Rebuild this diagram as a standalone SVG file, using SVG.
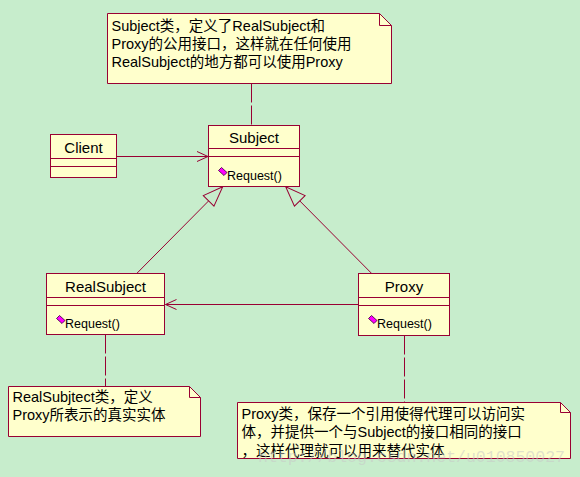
<svg xmlns="http://www.w3.org/2000/svg" width="580" height="477" viewBox="0 0 580 477">
<style>
  .box { fill: #FFFFCC; stroke: #990033; stroke-width: 1; }
  .ln { stroke: #990033; stroke-width: 1; fill: none; }
  .dash { stroke: #990033; stroke-width: 1; fill: none; stroke-dasharray: 19 3; }
  .title { font-family: "Liberation Sans", Arial, sans-serif; font-size: 15px; fill: #000; text-anchor: middle; }
  .op { font-family: "Liberation Sans", Arial, sans-serif; font-size: 12.5px; fill: #000; }
  .note { font-family: "Liberation Sans", Arial, "Noto Sans CJK SC", sans-serif; font-size: 14.5px; fill: #000; }
  .icon { fill: #FF00FF; stroke: #330033; stroke-width: 0.8; }
  .wm { font-family: "Liberation Mono", "Courier New", monospace; font-size: 16.5px; fill: #c8c8c8; fill-opacity: 0.55; }
</style>
<defs>
  <marker id="gen" markerUnits="userSpaceOnUse" viewBox="-21 -9 22 18" markerWidth="22" markerHeight="18" refX="0" refY="0" orient="auto">
    <path d="M0,0 L-20,-7.5 L-20,7.5 Z" fill="#C7EDCC" stroke="#990033" stroke-width="1"/>
  </marker>
  <marker id="open" markerUnits="userSpaceOnUse" viewBox="-13 -7 14 14" markerWidth="14" markerHeight="14" refX="0" refY="0" orient="auto">
    <path d="M-11,-5 L0,0 L-11,5" fill="none" stroke="#990033" stroke-width="1"/>
  </marker>
  <polygon id="opicon" points="0,3 3,0 8.5,5 5.5,8"/>
</defs>
<rect x="0" y="0" width="580" height="477" fill="#C7EDCC"/>

<g id="connectors">
  <path class="dash" d="M251.5,83.5 L251.5,125.5"/>
  <path class="dash" d="M105.5,334.5 L105.5,386.5"/>
  <path class="dash" d="M404.5,335.5 L404.5,402.5"/>
  <path class="ln" d="M116.5,156.5 L208,156.5" marker-end="url(#open)"/>
  <path class="ln" d="M358.5,304.5 L165.5,304.5" marker-end="url(#open)"/>
  <path class="ln" d="M136.7,273.5 L222.7,186.7" marker-end="url(#gen)"/>
  <path class="ln" d="M371.7,273.5 L285.7,186.7" marker-end="url(#gen)"/>
</g>

<g id="note-subject">
  <path class="box" d="M107.5,13.5 L379.5,13.5 L391.5,25.5 L391.5,83.5 L107.5,83.5 Z"/>
  <path class="ln" d="M379.5,13.5 L379.5,25.5 L391.5,25.5"/>
  <text class="note" x="111.5" y="30.5">Subject类，定义了RealSubject和</text>
  <text class="note" x="111.5" y="48.5">Proxy的公用接口，这样就在任何使用</text>
  <text class="note" x="111.5" y="66.5">RealSubject的地方都可以使用Proxy</text>
</g>

<g id="client">
  <rect class="box" x="50.5" y="134.5" width="66" height="43"/>
  <path class="ln" d="M50.5,158.5 H116.5 M50.5,166.5 H116.5"/>
  <text class="title" x="83.5" y="153">Client</text>
</g>

<g id="subject">
  <rect class="box" x="208.5" y="125.5" width="91" height="61"/>
  <path class="ln" d="M208.5,148.5 H299.5 M208.5,156.5 H299.5"/>
  <text class="title" x="254" y="143">Subject</text>
  <use href="#opicon" class="icon" x="218.5" y="167.5"/>
  <text class="op" x="227" y="180">Request()</text>
</g>

<g id="realsubject">
  <rect class="box" x="46.5" y="273.5" width="118" height="61"/>
  <path class="ln" d="M46.5,297.5 H164.5 M46.5,305.5 H164.5"/>
  <text class="title" x="105.5" y="292">RealSubject</text>
  <use href="#opicon" class="icon" x="56.5" y="315.5"/>
  <text class="op" x="65" y="328">Request()</text>
</g>

<g id="proxy">
  <rect class="box" x="358.5" y="273.5" width="91" height="62"/>
  <path class="ln" d="M358.5,297.5 H449.5 M358.5,305.5 H449.5"/>
  <text class="title" x="404" y="292">Proxy</text>
  <use href="#opicon" class="icon" x="368.5" y="315.5"/>
  <text class="op" x="377" y="328">Request()</text>
</g>

<g id="note-realsubject">
  <path class="box" d="M8.5,386.5 L189.5,386.5 L200.5,397.5 L200.5,436.5 L8.5,436.5 Z"/>
  <path class="ln" d="M189.5,386.5 L189.5,397.5 L200.5,397.5"/>
  <text class="note" x="12.5" y="402">RealSubjtect类，定义</text>
  <text class="note" x="12.5" y="420">Proxy所表示的真实实体</text>
</g>

<g id="note-proxy">
  <path class="box" d="M237.5,402.5 L560.5,402.5 L570.5,412.5 L570.5,458.5 L237.5,458.5 Z"/>
  <path class="ln" d="M560.5,402.5 L560.5,412.5 L570.5,412.5"/>
  <text class="note" x="241.5" y="418.5">Proxy类，保存一个引用使得代理可以访问实</text>
  <text class="note" x="241.5" y="437">体，并提供一个与Subject的接口相同的接口</text>
  <text class="note" x="241.5" y="455.5">，这样代理就可以用来替代实体</text>
</g>

<text class="wm" x="258" y="462">http://blog.csdn.net/u010850027</text>
</svg>
